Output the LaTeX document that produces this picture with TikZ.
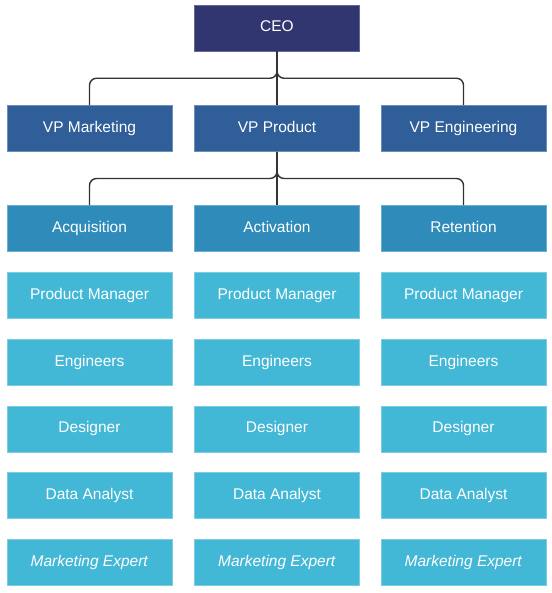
\documentclass[tikz,border=0pt]{standalone}
\usepackage{fontspec}
\setmainfont{Liberation Sans}
\usetikzlibrary{positioning}
\usetikzlibrary{calc}
\definecolor{ceoblue}{RGB}{50,54,112}
\definecolor{vpblue}{RGB}{47,94,152}
\definecolor{teamblue}{RGB}{46,139,186}
\definecolor{roleblue}{RGB}{66,183,214}
\tikzstyle{box}=[rectangle,draw,line width=0.8pt,minimum width=165pt,minimum height=46pt,inner sep=0pt,text height=0.72em,text depth=0pt,text=white,font=\fontsize{15.5}{18}\selectfont]
\tikzstyle{ceobox}=[box,fill=ceoblue,draw=ceoblue!75!white]
\tikzstyle{vpbox}=[box,fill=vpblue,draw=vpblue!70!white]
\tikzstyle{teambox}=[box,fill=teamblue,draw=teamblue!70!white]
\tikzstyle{rolebox}=[box,fill=roleblue,draw=roleblue!70!white]
\tikzstyle{link}=[draw=black!80,line width=1.4pt,rounded corners=7pt]

\begin{document}
\begin{tikzpicture}[x=1pt,y=-1pt]

  \useasboundingbox (0,0) rectangle (551,593);

  \node[ceobox] (ceo) at (277,28) {CEO};

    \foreach \pos/\name/\label in {{(89.5,128.5)/vpm/VP Marketing}, {(277,128.5)/vpp/VP Product}, {(463.5,128.5)/vpe/VP Engineering}}
        \node[vpbox] (\name) at \pos {\label};

    \foreach \pos/\name/\label in {{(89.5,228.5)/acq/Acquisition}, {(277,228.5)/act/Activation}, {(463.5,228.5)/ret/Retention}}
        \node[teambox] (\name) at \pos {\label};

    \foreach \team/\x in {acq/89.5, act/277, ret/463.5}
        \foreach \y/\label [count=\i] in {295.5/Product Manager, 362.5/Engineers, 429/Designer, 495.5/Data Analyst, 562.5/\textit{Marketing Expert}}
            \node[rolebox] (\team\i) at (\x,\y) {\label};

  % branches
  \coordinate (ceojoin) at ($(ceo.south)!0.5!(vpp.north)$);
  \coordinate (vpjoin) at ($(vpp.south)!0.5!(act.north)$);

  \draw[link] (ceo.south) -- (ceojoin) -| (vpm.north);
  \draw[link] (ceo.south) -- (ceojoin) -| (vpe.north);
  \draw[link] (ceo) -- (vpp);

  \draw[link] (vpp.south) -- (vpjoin) -| (acq.north);
  \draw[link] (vpp.south) -- (vpjoin) -| (ret.north);
  \draw[link] (vpp) -- (act);

\end{tikzpicture}
\end{document}
